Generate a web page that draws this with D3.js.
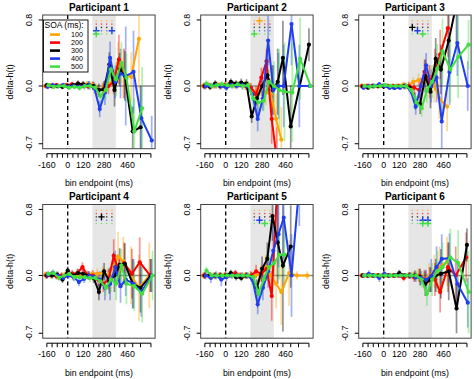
<!DOCTYPE html>
<html><head><meta charset="utf-8">
<script src="https://cdn.jsdelivr.net/npm/d3@7"></script>
<style>body{margin:0;background:#fff}svg{display:block;font-family:"Liberation Sans",Arial,sans-serif}</style>
</head><body><svg id="c" width="474" height="379"></svg>
<script>
// ---------- data ----------
const BINS = [-160,-120,-80,-40,0,40,80,120,160,200,240,280,320,360,400,440,500,560,640];
const X_LABELS = [-160,0,120,280,460];
const Y_TICKS = [0.8,0.0,-0.7];
const SOA = ["100","200","300","400","500"];
const TITLES = ["Participant 1","Participant 2","Participant 3","Participant 4","Participant 5","Participant 6"];
const SHADE = [190,370];
const SIG_COLS = [220,260,300,340];
const SIG_ROWS = [0.79,0.75,0.71,0.67,0.63];
// [panel, series, column]
const SIG_PLUS = [[0,3,0],[0,3,3],[0,4,0],[1,0,1],[1,4,0],[2,2,0],[2,3,1],[2,4,2],[3,2,1],[4,3,1],[4,4,2],[5,3,2],[5,3,3],[5,4,2],[5,4,3]];

// means: one array per SOA (100,200,300,400,500)
const p1Mean = [
 [0,0.01,0,0,0.01,0.01,0,0.01,0.02, 0.01,-0.04,-0.04,0.03,0.05,0.28,0.15,0.11,0.57,null],
 [0,0,0.01,0,0.01,0.02,0.02,0.01,0, 0,-0.05,-0.04,0,0.05,0.32,0.15,null,null,null],
 [0.01,0,0,-0.01,0,0.01,0.03,0.02,0.01, 0,-0.05,-0.04,0.26,-0.05,0.2,0.12,-0.55,-0.5,null],
 [-0.01,0.01,0,0.01,-0.01,0,-0.01,0,0.01, -0.03,-0.28,-0.08,0.34,0.05,0.15,0.12,0.17,-0.39,-0.66],
 [0.01,-0.01,0,0,-0.02,-0.01,-0.02,0,0, -0.02,-0.12,-0.05,0.2,0.08,0.28,0.1,-0.55,-0.27,null]];
const p1Err = [
 [.03,.03,.03,.03,.03,.03,.03,.04,.04, .05,.06,.08,.1,.12,.25,.3,.3,.6,null],
 [.03,.03,.03,.03,.03,.03,.04,.04,.04, .05,.06,.08,.1,.15,.3,.3,null,null,null],
 [.03,.03,.03,.03,.03,.03,.04,.04,.05, .05,.08,.1,.15,.2,.2,.3,.3,.5,null],
 [.03,.03,.03,.03,.03,.03,.04,.04,.05, .06,.1,.15,.2,.2,.3,.6,.5,.4,.3],
 [.03,.03,.03,.03,.03,.03,.04,.04,.05, .05,.1,.12,.15,.2,.25,.3,.4,.5,null]];

const p2Mean = [
 [0,0.01,0,0.01,0,0.02,0.01,0.02,0.01, -0.02,-0.1,-0.02,-0.08,-0.1,-0.4,-0.65,null,null,null],
 [0,0,0.01,0,0.01,0.02,0.01,0.02,0, -0.02,-0.1,0.1,0.3,-0.4,-0.9,null,null,null,null],
 [0,-0.01,0.03,0,0,0.05,0.03,0.04,0.03, -0.37,-0.15,0,0.13,-0.05,0.05,0.34,-0.49,null,0.5],
 [0,0,0.01,0,-0.02,0.01,0,0.01,0, -0.1,-0.4,-0.15,0.55,-0.05,0,0,0.75,0,0],
 [0.03,0,0.01,0.02,0.01,0,0.02,0,0.01, -0.15,-0.2,-0.18,0.05,0,-0.05,-0.07,-0.08,0.33,0]];
const p2Err = [
 [.04,.04,.04,.04,.04,.04,.04,.04,.05, .06,.08,.1,.15,.2,.3,.4,null,null,null],
 [.04,.04,.04,.04,.04,.04,.04,.04,.05, .06,.1,.12,.15,.3,.4,null,null,null,null],
 [.04,.04,.04,.04,.04,.04,.04,.05,.05, .08,.1,.12,.2,.3,.4,.45,.5,null,.2],
 [.04,.04,.04,.04,.04,.04,.04,.05,.05, .08,.15,.15,.3,.3,.4,.5,.5,.5,null],
 [.04,.04,.04,.04,.04,.04,.04,.05,.05, .08,.1,.12,.15,.3,.5,.6,.6,.5,null]];

const p3Mean = [
 [0,0,0,0,0,0,0,0,0.01, 0,0.05,0.07,0.05,0.1,0,-0.15,-0.25,null,null],
 [0,0,0,0,0,0,0,0,0, 0,-0.02,-0.05,0.17,0.05,0.2,0.38,0.7,null,null],
 [-0.01,-0.02,0,0,0,-0.01,-0.02,-0.01,0, -0.02,-0.18,-0.22,0.12,-0.07,0.33,0.2,0.55,1.0,null],
 [-0.02,0,0,0.02,0,-0.02,-0.02,-0.02,0, -0.05,-0.25,0,0.25,0,0.1,-0.43,0.17,0.52,0],
 [0,-0.01,0,0,0.01,0,0,0,0, -0.05,-0.2,-0.27,-0.05,0.05,0.21,0.42,0.2,0.35,0.5]];
const p3Err = [
 [.03,.03,.03,.03,.03,.03,.03,.03,.04, .05,.06,.08,.1,.15,.2,.25,.3,null,null],
 [.03,.03,.03,.03,.03,.03,.03,.03,.04, .05,.08,.1,.15,.2,.25,.3,.35,null,null],
 [.03,.03,.03,.03,.03,.03,.03,.03,.04, .05,.1,.12,.2,.2,.25,.3,.4,.5,null],
 [.03,.03,.03,.03,.03,.03,.03,.03,.04, .05,.1,.1,.15,.2,.3,.7,.4,.4,.3],
 [.03,.03,.03,.03,.03,.03,.03,.03,.04, .05,.08,.1,.15,.2,.3,.4,.4,.5,.3]];

const p4Mean = [
 [0.01,0,0,0,0.02,0.01,0,0,0.01, 0.02,0.02,0.03,0,0.1,0.23,0.17,0,-0.15,0],
 [0,0.01,-0.01,0,0.01,0.02,0.03,0.1,0, 0,-0.05,-0.1,-0.05,0.24,0.05,0.15,0.02,0.16,0],
 [0,0,0.01,-0.05,0.06,0,0.03,0.02,0, -0.03,-0.2,0.05,-0.07,0,0.13,0.14,-0.1,-0.15,0],
 [0.01,0.03,0,-0.03,0,-0.02,-0.08,-0.04,0, -0.02,-0.05,-0.15,-0.1,0.1,-0.13,-0.05,-0.1,-0.2,0],
 [0.02,0.03,-0.03,0,0.02,-0.02,-0.02,-0.02,-0.03, -0.03,-0.07,-0.15,-0.05,-0.1,0.12,-0.1,-0.13,-0.22,0]];
const p4Err = [
 [.04,.04,.04,.04,.04,.04,.04,.05,.05, .05,.06,.08,.1,.15,.3,.3,.35,.4,.4],
 [.04,.04,.04,.04,.04,.05,.05,.06,.05, .06,.08,.1,.12,.2,.2,.25,.3,.3,.2],
 [.04,.04,.04,.04,.05,.05,.05,.05,.05, .06,.1,.1,.15,.2,.2,.25,.3,.3,.2],
 [.04,.04,.04,.04,.04,.05,.05,.05,.05, .06,.1,.15,.2,.2,.2,.2,.3,.3,.2],
 [.04,.04,.04,.04,.04,.05,.05,.05,.05, .06,.08,.1,.15,.2,.2,.25,.3,.35,.3]];

const p5Mean = [
 [0,0,0,0,0,0.01,0,0,0, 0,0,0.02,0.1,0,-0.1,-0.2,0.03,0,0],
 [0,0,0,0,0,0.01,0.03,0,0, 0,0.05,0.02,0.08,-0.25,1.0,null,null,null,null],
 [0,0,0,0,0,0.03,-0.02,-0.03,0, -0.02,-0.15,0.08,0.2,0.72,0.4,0.12,0.35,null,null],
 [0,-0.03,0,-0.05,-0.02,0,0,0,0, -0.05,-0.35,-0.15,0.05,0.3,0.5,0.7,0,1.1,null],
 [0.06,0,0,0,0,0,0,0,0, -0.02,-0.22,-0.05,0.1,0.15,0.25,0.25,null,null,null]];
const p5Err = [
 [.04,.04,.04,.04,.04,.04,.04,.04,.04, .05,.06,.08,.15,.2,.3,.4,.4,.05,.05],
 [.04,.04,.04,.04,.04,.04,.04,.04,.04, .05,.08,.1,.15,.3,.6,null,null,null,null],
 [.04,.04,.04,.04,.04,.04,.04,.04,.04, .06,.1,.15,.2,.3,.5,.8,.5,null,null],
 [.05,.06,.05,.08,.05,.04,.04,.04,.04, .06,.12,.15,.2,.3,.4,.5,.5,.5,null],
 [.05,.04,.04,.04,.04,.04,.04,.04,.04, .05,.1,.12,.15,.2,.3,.4,null,null,null]];

const p6Mean = [
 [0,0,0,0,0,0,0,0,0, 0,0,0,-0.05,0,0.05,0.1,0.17,null,null],
 [0,0,0,0,0,0,0,0,-0.03, 0,-0.02,0,-0.05,-0.05,-0.05,-0.2,0.1,0,0.22],
 [0,0,0,0,0,0,0,0.03,0, 0,0,-0.02,-0.1,-0.05,0,0.02,0.05,-0.4,0.37],
 [0,0.02,0,-0.03,0.02,0,0,0,0, 0,-0.02,-0.03,-0.05,0,0.1,0.2,0.21,-0.1,-0.33],
 [0,0,0,0,0,0,0,0,0, 0,0,-0.05,-0.22,-0.05,0.05,0.1,0.22,0.15,-0.2]];
const p6Err = [
 [.03,.03,.03,.03,.03,.03,.03,.03,.03, .04,.05,.08,.1,.15,.2,.25,.3,null,null],
 [.03,.03,.03,.03,.03,.03,.03,.03,.04, .04,.06,.08,.12,.15,.2,.25,.3,.35,.3],
 [.03,.03,.03,.03,.03,.03,.03,.04,.03, .04,.06,.1,.15,.15,.2,.3,.35,.3,.2],
 [.03,.04,.03,.05,.05,.03,.03,.03,.03, .04,.06,.08,.12,.2,.25,.3,.3,.3,.3],
 [.03,.03,.03,.03,.03,.03,.03,.03,.03, .04,.06,.1,.15,.2,.25,.3,.35,.4,.5]];

const MEANS = [p1Mean,p2Mean,p3Mean,p4Mean,p5Mean,p6Mean];
const ERRS = [p1Err,p2Err,p3Err,p4Err,p5Err,p6Err];

// ---------- style ----------
const COLORS = ["#FFA500","#FF0000","#000000","#1F3FEF","#3FE03F"];
const FW = 158, FH = 189.5, ML = 42.7, MR = 2.9, MT = 15, MB = 40.8;

const svg = d3.select("#c");
const x = d3.scaleLinear().domain([-192,672]).range([ML, FW-MR]);
const y = d3.scaleLinear().domain([-0.76,0.86]).range([FH-MB, MT]);
const defs = svg.append("defs");
defs.append("clipPath").attr("id","clip").append("rect")
  .attr("x",ML).attr("y",MT).attr("width",FW-MR-ML).attr("height",FH-MB-MT);

const line = d3.line().x(d=>d.x).y(d=>y(d.v));

for (let p=0;p<6;p++){
  const g = svg.append("g").attr("transform",`translate(${(p%3)*FW},${Math.floor(p/3)*FH})`);
  const plot = g.append("g").attr("clip-path","url(#clip)");
  plot.append("rect").attr("x",x(SHADE[0])).attr("y",MT).attr("width",x(SHADE[1])-x(SHADE[0]))
    .attr("height",FH-MB-MT).attr("fill","#e6e6e6");
  plot.append("line").attr("x1",ML).attr("x2",FW-MR).attr("y1",y(0)).attr("y2",y(0))
    .attr("stroke","#8c8c8c").attr("stroke-width",1.6);
  plot.append("line").attr("x1",x(0)).attr("x2",x(0)).attr("y1",MT).attr("y2",FH-MB)
    .attr("stroke","#000").attr("stroke-width",1.4).attr("stroke-dasharray","4,3");

  const means = MEANS[p], errs = ERRS[p];
  const series = means.map((arr,i)=>arr.map((v,j)=>({x:x(BINS[j])+(i-2)*0.8, v, e:errs[i][j]})).filter(d=>d.v!==null));
  series.forEach((s,i)=>{
    plot.selectAll(null).data(s.filter(d=>d.e!==null)).enter().append("line")
      .attr("x1",d=>d.x).attr("x2",d=>d.x).attr("y1",d=>y(d.v-d.e)).attr("y2",d=>y(d.v+d.e))
      .attr("stroke",COLORS[i]).attr("stroke-opacity",0.42).attr("stroke-width",1.7);
  });
  series.forEach((s,i)=>{
    plot.append("path").attr("d",line(s)).attr("fill","none").attr("stroke",COLORS[i]).attr("stroke-width",2);
    plot.selectAll(null).data(s).enter().append("circle")
      .attr("cx",d=>d.x).attr("cy",d=>y(d.v)).attr("r",2.1).attr("fill",COLORS[i]);
  });
  SIG_ROWS.forEach((rv,i)=>{
    SIG_COLS.forEach(c=>{
      plot.append("circle").attr("cx",x(c)).attr("cy",y(rv)).attr("r",0.8)
        .attr("fill",COLORS[i]).attr("fill-opacity",0.7);
    });
  });
  SIG_PLUS.filter(s=>s[0]===p).forEach(s=>{
    const cx = x(SIG_COLS[s[2]]), cy = y(SIG_ROWS[s[1]]);
    plot.append("path").attr("d",`M${cx-3.2},${cy}H${cx+3.2}M${cx},${cy-3.2}V${cy+3.2}`)
      .attr("stroke",COLORS[s[1]]).attr("stroke-width",1.4);
  });

  g.append("rect").attr("x",ML).attr("y",MT).attr("width",FW-MR-ML).attr("height",FH-MB-MT)
    .attr("fill","none").attr("stroke","#444").attr("stroke-width",1);
  Y_TICKS.forEach(t=>{
    g.append("line").attr("x1",ML-4).attr("x2",ML).attr("y1",y(t)).attr("y2",y(t)).attr("stroke","#000");
    g.append("text").attr("transform",`translate(${ML-11},${y(t)}) rotate(-90)`)
      .attr("text-anchor","middle").attr("font-size",8.8).text(t.toFixed(1));
  });
  const ay = FH-MB+5;
  g.append("line").attr("x1",x(BINS[0])).attr("x2",x(BINS[BINS.length-1])).attr("y1",ay).attr("y2",ay).attr("stroke","#000");
  BINS.forEach(b=>{
    g.append("line").attr("x1",x(b)).attr("x2",x(b)).attr("y1",ay).attr("y2",ay+4).attr("stroke","#000");
  });
  X_LABELS.forEach(b=>{
    g.append("text").attr("x",x(b)).attr("y",ay+14).attr("text-anchor","middle").attr("font-size",8.8).text(b);
  });
  g.append("text").attr("x",(ML+FW-MR)/2).attr("y",FH-3.5).attr("text-anchor","middle").attr("font-size",8.8).text("bin endpoint (ms)");
  g.append("text").attr("transform",`translate(13,${(MT+FH-MB)/2}) rotate(-90)`).attr("text-anchor","middle")
    .attr("font-size",8.8).text("delta-h(t)");
  g.append("text").attr("x",(ML+FW-MR)/2).attr("y",10.5).attr("text-anchor","middle")
    .attr("font-size",10).attr("font-weight","bold").text(TITLES[p]);

  if (p===0){
    const lg = g.append("g");
    lg.append("rect").attr("x",43.5).attr("y",20).attr("width",44.5).attr("height",52)
      .attr("fill","#fff").attr("stroke","#000").attr("stroke-width",0.9);
    lg.append("text").attr("x",44.5).attr("y",27.8).attr("font-size",8.5).text("SOA (ms):");
    SOA.forEach((s,i)=>{
      const ly = 34.6 + i*8;
      lg.append("line").attr("x1",50).attr("x2",60).attr("y1",ly).attr("y2",ly)
        .attr("stroke",COLORS[i]).attr("stroke-width",2.6);
      lg.append("text").attr("x",71).attr("y",ly+2.7).attr("font-size",7.2).text(s);
    });
  }
}
</script></body></html>
